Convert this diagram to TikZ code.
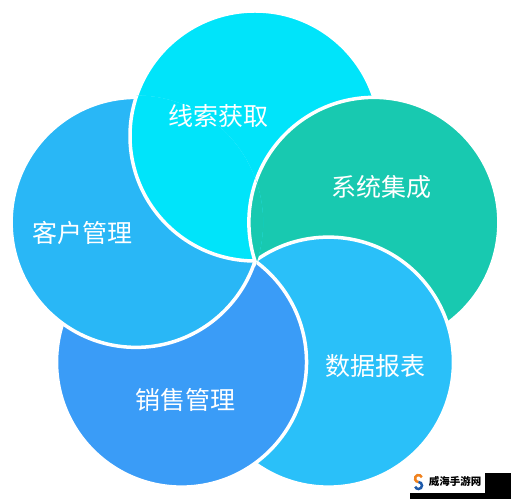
\documentclass[tikz,border=0pt]{standalone}
\usepackage{fontspec}
\newfontfamily\cjk{Noto Sans CJK SC}
\usetikzlibrary{calc}
\definecolor{mycyan}{RGB}{0,228,250}
\definecolor{myteal}{RGB}{24,201,176}
\definecolor{mysky}{RGB}{42,192,249}
\definecolor{myblue}{RGB}{58,156,247}
\definecolor{mylight}{RGB}{41,183,246}
\definecolor{myorange}{RGB}{240,130,30}
\definecolor{mynavy}{RGB}{30,90,170}

\begin{document}
\begin{tikzpicture}[x=1pt,y=1pt,
  petal/.style={circle,draw=white,line width=3.5pt,minimum size=250pt,inner sep=0pt},
  lbl/.style={text=white,font=\cjk\fontsize{25}{30}\selectfont},
  marktxt/.style={text=black,font=\cjk\bfseries\fontsize{10.5}{12}\selectfont,inner sep=0pt}]

 \useasboundingbox (0,0) rectangle (511,500);
 \coordinate (hub) at (255,239);

 % five petals round the hub
 \node[petal,fill=mycyan] (lead) at ($(hub)+(90:125pt)$) {};
 \node[petal,fill=myteal] (integ) at ($(hub)+(18:125pt)$) {};
 \node[petal,fill=mysky] (report) at ($(hub)+(306:125pt)$) {};
 \node[petal,fill=myblue] (sales) at ($(hub)+(234:125pt)$) {};
 \node[petal,fill=mylight] (client) at ($(hub)+(162:125pt)$) {};

 % close the ring: lead and integ go back over client
 \begin{scope}
  \clip (client.center) circle (127pt);
  \node[petal,fill=mycyan] (lead2) at (lead.center) {};
  \node[petal,fill=myteal] (integ2) at (integ.center) {};
 \end{scope}

 % labels
 \node[lbl] (leadtxt) at (218,384) {线索获取};
 \node[lbl] (integtxt) at (381,313) {系统集成};
 \node[lbl] (clienttxt) at (82,267) {客户管理};
 \node[lbl] (reporttxt) at (375,134) {数据报表};
 \node[lbl] (salestxt) at (185,100) {销售管理};

 % watermark
 \fill[black] (410,1) rectangle (511,27);
 \node[fill=white,minimum width=77pt,minimum height=21pt,inner sep=0pt] (mark) at (446.5,17.5) {};
 \draw[myorange,line width=2.5pt] (421.8,22.7) arc[start angle=20,end angle=270,radius=3.5pt];
 \draw[mynavy,line width=2.5pt] (418.5,18) arc[start angle=90,end angle=-160,radius=3.5pt];
 \node[marktxt] (marklbl) at (455,19) {威海手游网};

\end{tikzpicture}
\end{document}
